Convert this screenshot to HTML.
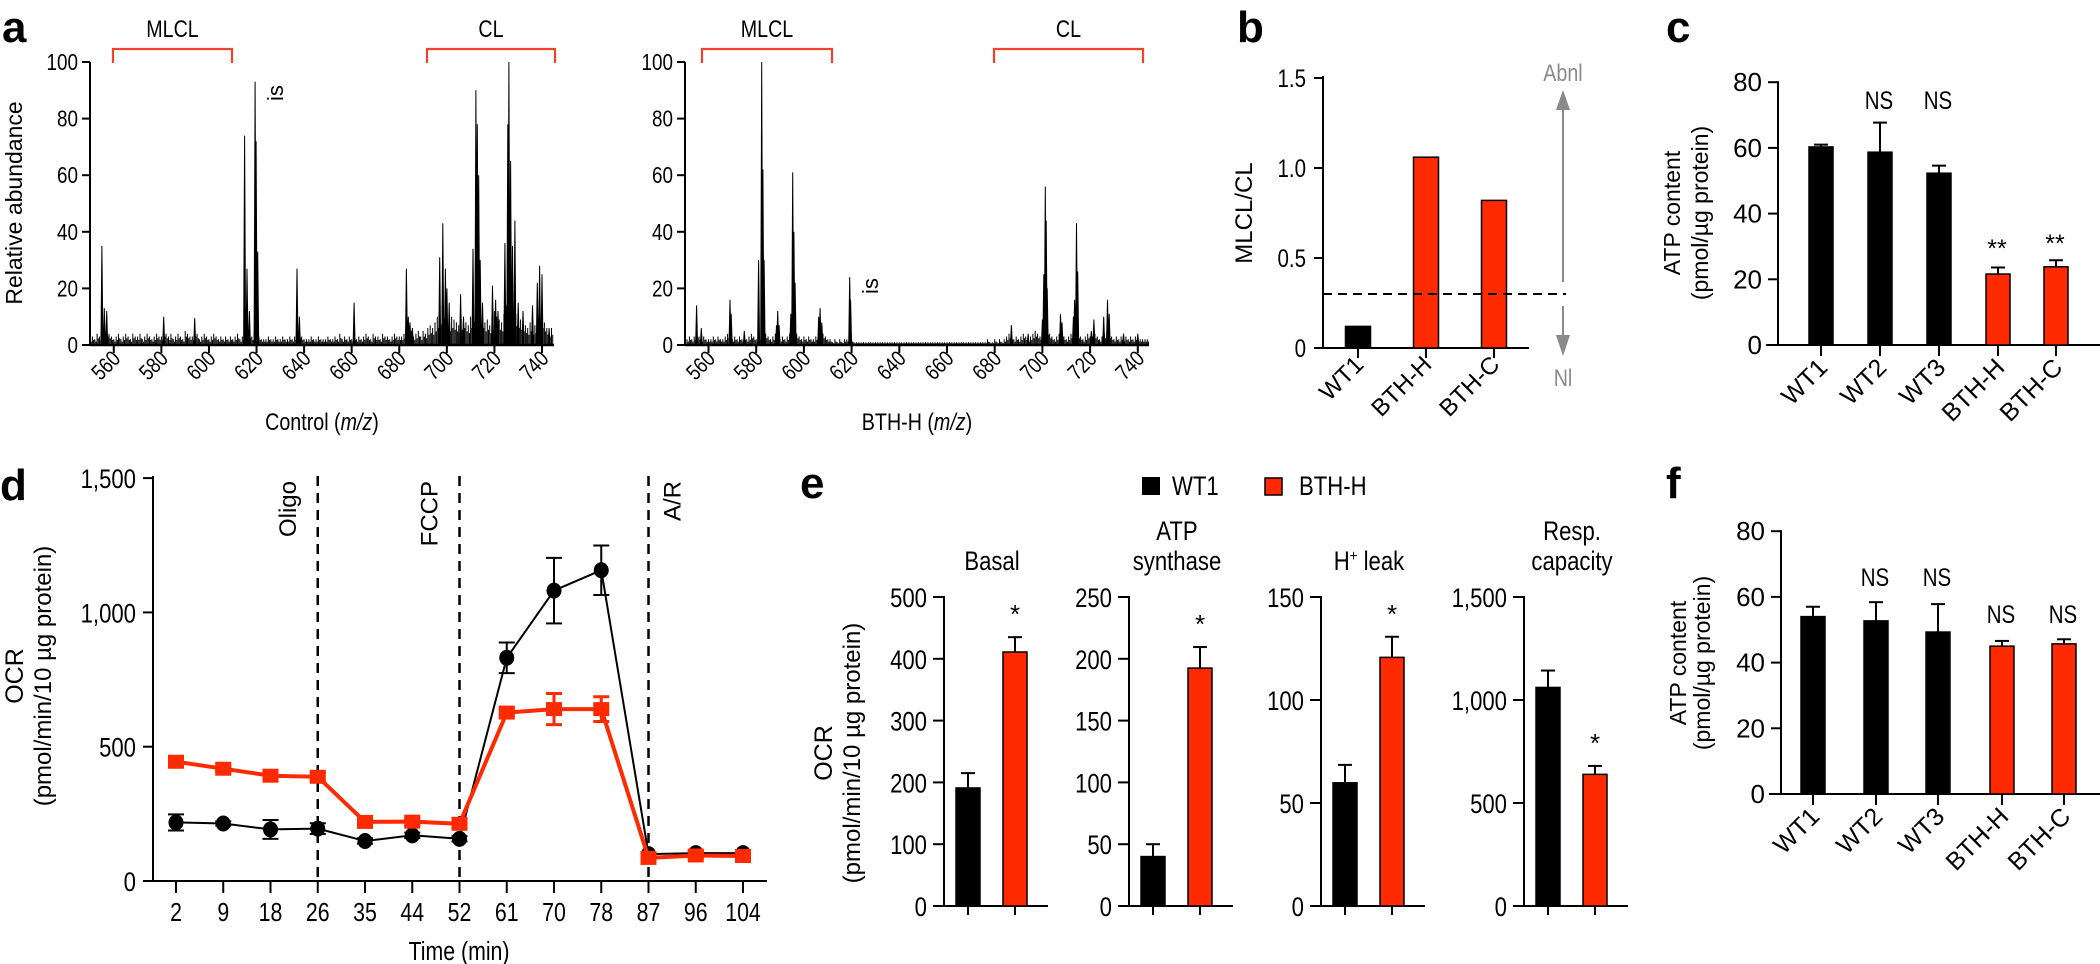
<!DOCTYPE html>
<html><head><meta charset="utf-8"><style>
html,body{margin:0;padding:0;background:#fff;}
svg{display:block;}
</style></head>
<body>
<svg id="fig" xmlns="http://www.w3.org/2000/svg" width="2100" height="964" viewBox="0 0 2100 964"></svg>
<script>
// ---------- DATA ----------
const ctrlPeakMz  = [555,556,557,581,594,615,616,617,619.4,619.8,620.5,637,638,661,683,683.8,684.5,685.5,697,698.3,699.4,700,701,705.8,707,711,712.2,712.8,713.4,714,715,719.2,720.5,721.5,724.4,725.6,726.1,726.8,727.6,728.6,730,732,736,738,739,740,743];
const ctrlPeakVal = [35,13,12,10,9.5,74,27,12,93,72,33,27,10,15,27,10,8,6,31,43,27,20,15,18,10,34,90,78,60,30,15,21,16,12,36,78,100,65,35,44,15,12,14,22,28,25,6];
const ctrlNoise = [2,3,2,4,3,2,3,5,4,3,2,
3,4,2,3,4,3,2,4,3,3,4,2,3,4,3,2,3,4,3,3,
5,4,3,4,2,3,4,3,2,5,4,3,3,5,4,2,3,4,3,2,
3,4,3,2,3,2,3,2,3,2,3,4,2,3,5,6,4,3,5,4,
3,2,2,2,3,2,2,3,2,2,3,2,2,3,2,3,3,4,3,2,
2,2,3,2,2,3,2,2,2,3,2,2,3,2,4,2,3,2,3,2,
3,2,3,2,3,4,3,2,4,3,3,2,4,3,3,2,3,4,3,3,
3,4,6,7,5,3,4,5,3,5,4,6,7,6,8,10,12,14,9,7,
8,10,9,8,7,9,10,8,7,10,14,16,12,9,10,8,9,7,9,12,
10,9,8,11,14,16,12,9,11,10,9,8,7,6,8,6,7,8,12,10,8,6,5,6];
const bthPeakMz  = [555,557,569,569.5,575,581,582.3,582.8,583.3,589,588.5,589.6,594.5,595.3,595.8,596.3,606.8,606.2,607.5,619.2,619.6,687,694,700,700.6,701.2,701.6,702,707.6,708.2,713,713.5,714.3,714.8,720.5,721.6,725.7,727.3,728,734,740];
const bthPeakVal = [14,6,16,11,5,30,100,62,30,12,7,7,11,61,40,22,13,10,8,24,16,7,4,9,25,56,44,20,11,8,10,16,43,26,5,9,10,16,11,4,4];
const bthNoise = [2,3,2,3,4,3,2,3,2,2,
2,3,2,3,2,2,3,4,3,2,3,2,3,2,3,2,3,4,3,2,
3,4,5,4,3,2,3,4,3,2,3,2,3,4,5,6,4,3,2,3,
2,3,2,2,3,2,3,4,3,2,2,1,2,1,2,1,2,2,3,2,
1,1,1,1,1,1,1,1,1,1,1,1,1,1,1,1,1,1,1,1,
1,1,1,1,1,1,1,1,1,1,1,1,1,1,1,1,1,1,1,1,
1,1,1,1,1,1,1,1,1,1,1,1,1,1,1,1,2,1,1,2,
1,2,1,2,3,4,3,2,3,2,3,4,3,2,3,4,5,4,3,4,
5,6,4,3,2,3,4,5,3,2,3,4,5,6,4,3,2,3,4,3,
3,4,3,2,3,4,5,4,3,2,3,2,3,2,3,2,3,2,3,2,2,2,2,2];
const mzTicks = [560,580,600,620,640,660,680,700,720,740];
const abundTicks = [0,20,40,60,80,100];

const bCats = ["WT1","BTH-H","BTH-C"];
const bVals = [0.12,1.06,0.82];
const bTicks = ["0","0.5","1.0","1.5"];

const atpCats = ["WT1","WT2","WT3","BTH-H","BTH-C"];
const cVals = [60.3,58.7,52.3,21.6,23.8];
const cErr  = [0.7,9,2.3,2,2];
const cSig  = ["","NS","NS","**","**"];
const fVals = [54,52.7,49.3,45,45.7];
const fErr  = [3,5.7,8.5,1.6,1.4];
const fSig  = ["","NS","NS","NS","NS"];
const atpTicks = [0,20,40,60,80];

const dTimes = ["2","9","18","26","35","44","52","61","70","78","87","96","104"];
const dWT  = [218,214,192,195,149,170,157,831,1081,1157,100,104,104];
const dWTe = [30,8,35,20,10,10,10,57,122,92,8,8,8];
const dBT  = [444,418,392,388,220,221,213,627,640,640,86,95,93];
const dBTe = [10,10,10,15,12,12,12,15,58,46,10,10,10];
const dTicks = [0,500,1000,1500];
const dTickLabels = ["0","500","1,000","1,500"];
const dInjections = [3,6,10];
const dInjNames = ["Oligo","FCCP","A/R"];

const eTitles = [["Basal"],["ATP","synthase"],["H+ leak"],["Resp.","capacity"]];
const eMax = [500,250,150,1500];
const eStep = [100,50,50,500];
const eWT  = [191,40,59.8,1061];
const eWTe = [24,10,8.7,82];
const eBT  = [411,192.5,120.7,639];
const eBTe = [24,17,10,41];

// ---------- HELPERS ----------
const NS = "http://www.w3.org/2000/svg";
const svg = document.getElementById('fig');
const NARROW = "narrow";
const REG = "'Liberation Sans',sans-serif";
const RED = "#ff2a00";
function mk(tag, attrs, name, parent){
  const e = document.createElementNS(NS, tag);
  for (const k in attrs) e.setAttribute(k, attrs[k]);
  
  
  (parent || svg).appendChild(e);
  return e;
}
function line(x1,y1,x2,y2,name,extra){
  const a = {x1:x1,y1:y1,x2:x2,y2:y2,stroke:'#000','stroke-width':2};
  if (extra) for (const k in extra) a[k]=extra[k];
  return mk('line', a, name);
}
function text(x,y,s,size,name,opt){
  const fam = (opt&&opt.fam)||NARROW;
  const a = {x:x,y:y,'font-size':size,'font-family':REG,fill:(opt&&opt.fill)||'#000'};
  if (opt&&opt.anchor) a['text-anchor']=opt.anchor;
  if (opt&&opt.weight) a['font-weight']=opt.weight;
  let tr = (opt&&opt.transform) ? opt.transform : '';
  if (fam===NARROW) tr += ' translate('+x+' '+y+') scale(0.82 1) translate('+(-x)+' '+(-y)+')';
  if (tr) a['transform']=tr.trim();
  const t = mk('text', a, name);
  t.textContent = s;
  return t;
}
function panelLetter(x,y,s){ text(x,y,s,44,'panel-label-'+s,{fam:REG,weight:'bold'}); }

// ---------- PANEL A ----------
function spectrum(id, xs, peaksMz, peaksVal, noise, noiseStart, axX, axEnd, xlab){
  const ys = v => 345 - v*2.83;
  let d = '';
  noise.forEach((v,i)=>{ const x = xs(noiseStart+i); d += 'M'+x.toFixed(1)+' 345V'+ys(v).toFixed(1)+'M'+(x+1.2).toFixed(1)+' 345V'+ys(v*0.6).toFixed(1); });
  mk('path',{d:d,stroke:'#000','stroke-width':1,fill:'none'}, id+'-noise');
  let p = '';
  peaksMz.forEach((m,i)=>{ const x = xs(m); p += 'M'+(x-1).toFixed(1)+' 345L'+x.toFixed(1)+' '+ys(peaksVal[i]).toFixed(1)+'L'+(x+1).toFixed(1)+' 345Z'; });
  mk('path',{d:p,stroke:'#000','stroke-width':1,fill:'#000'}, id+'-peaks');
  line(axX,62,axX,346,id+'-y-axis');
  line(axX,345,axEnd,345,id+'-x-axis',{'stroke-width':2.5});
  abundTicks.forEach(v=>{
    line(axX-8,ys(v),axX,ys(v),id+'-y-tick');
    text(axX-12,ys(v)+8,String(v),23,id+'-y-tick-label',{anchor:'end'});
  });
  mzTicks.forEach(m=>{
    const x = xs(m);
    line(x,345,x,353,id+'-x-tick');
    text(x+8,360,String(m),22,id+'-x-tick-label',{anchor:'end',transform:'rotate(-45 '+(x+8)+' 360)'});
  });
  const t = text((axX+axEnd)/2,430,'',24,id+'-x-axis-title',{anchor:'middle'});
  t.textContent = xlab+' (';
  const ts = document.createElementNS(NS,'tspan'); ts.setAttribute('font-style','italic'); ts.textContent='m/z'; t.appendChild(ts);
  t.appendChild(document.createTextNode(')'));
}
const xCtrl = m => 90 + (m-550)*2.379;
const xBth  = m => 708.5 + (m-560)*2.385;
spectrum('control-spectrum', xCtrl, ctrlPeakMz, ctrlPeakVal, ctrlNoise, 550, 90, 554, 'Control');
spectrum('bthh-spectrum', xBth, bthPeakMz, bthPeakVal, bthNoise, 551, 685, 1149, 'BTH-H');
function bracket(x1,x2,label,name){
  mk('path',{d:'M'+x1+' 63V49H'+x2+'V63',stroke:'#f0442a','stroke-width':2.2,fill:'none'},name);
  text((x1+x2)/2,37,label,24,name+'-label',{anchor:'middle'});
}
bracket(113,232,'MLCL','control-mlcl-bracket');
bracket(427,555,'CL','control-cl-bracket');
bracket(702,832,'MLCL','bthh-mlcl-bracket');
bracket(994,1143,'CL','bthh-cl-bracket');
text(283,101,'is',22,'control-is-label',{fam:REG,transform:'rotate(-90 283 101)'});
text(878,294,'is',22,'bthh-is-label',{fam:REG,transform:'rotate(-90 878 294)'});
text(22,203,'Relative abundance',23,'a-y-axis-title',{fam:REG,anchor:'middle',transform:'rotate(-90 22 203)'});
panelLetter(2,42,'a');

// ---------- PANEL B ----------
(function(){
  const yb = v => 348 - v*180;
  const cx = [1358,1426,1494];
  line(1323,76,1323,349,'b-y-axis');
  line(1322,348,1529,348,'b-x-axis');
  bTicks.forEach(s=>{ const v=parseFloat(s); line(1314,yb(v),1323,yb(v),'b-y-tick'); text(1306,yb(v)+9,s,25,'b-y-tick-label',{anchor:'end'}); });
  bVals.forEach((v,i)=>{
    mk('rect',{x:cx[i]-12.5,y:yb(v),width:25,height:348-yb(v),fill:i===0?'#000':RED,stroke:'#000','stroke-width':1.5},'b-bar-'+bCats[i].toLowerCase());
    line(cx[i],348,cx[i],358,'b-x-tick');
    text(cx[i]+7,366,bCats[i],24,'b-x-tick-label',{fam:REG,anchor:'end',transform:'rotate(-45 '+(cx[i]+7)+' 366)'});
  });
  line(1323,yb(0.3),1566,yb(0.3),'b-threshold-line',{'stroke-dasharray':'9,6'});
  line(1563,100,1563,282,'abnormal-arrow',{stroke:'#8a8a8a','stroke-width':2});
  mk('polygon',{points:'1556,110 1563,90 1570,110',fill:'#8a8a8a'},'abnormal-arrowhead');
  line(1563,306,1563,340,'normal-arrow',{stroke:'#8a8a8a','stroke-width':2});
  mk('polygon',{points:'1556,335 1563,356 1570,335',fill:'#8a8a8a'},'normal-arrowhead');
  text(1563,81,'Abnl',24,'abnormal-label',{anchor:'middle',fill:'#8a8a8a'});
  text(1563,386,'Nl',24,'normal-label',{anchor:'middle',fill:'#8a8a8a'});
  text(1252,213,'MLCL/CL',24,'b-y-axis-title',{fam:REG,anchor:'middle',transform:'rotate(-90 1252 213)'});
  panelLetter(1237,42,'b');
})();

// ---------- PANELS C & F ----------
function atpPanel(id, axX, y0, cx, vals, errs, sig, sigY, labX1, labX2, labY){
  const ys = v => y0 - v*3.285;
  line(axX,ys(80)-1,axX,y0+1,id+'-y-axis');
  line(axX-12,y0,2100,y0,id+'-x-axis');
  atpTicks.forEach(v=>{ line(axX-10,ys(v),axX,ys(v),id+'-y-tick'); text(axX-16,ys(v)+9,String(v),26,id+'-y-tick-label',{fam:REG,anchor:'end'}); });
  vals.forEach((v,i)=>{
    const top = ys(v), et = ys(v+errs[i]);
    line(cx[i],top,cx[i],et,id+'-error-bar');
    line(cx[i]-7,et,cx[i]+7,et,id+'-error-cap');
    mk('rect',{x:cx[i]-12,y:top,width:24,height:y0-top,fill:i<3?'#000':RED,stroke:'#000','stroke-width':1.5},id+'-bar-'+atpCats[i].toLowerCase());
    line(cx[i],y0,cx[i],y0+11,id+'-x-tick');
    text(cx[i]+8,y0+24,atpCats[i],25,id+'-x-tick-label',{fam:REG,anchor:'end',transform:'rotate(-45 '+(cx[i]+8)+' '+(y0+24)+')'});
    if (sig[i]) text(cx[i]-1,sigY[i],sig[i],25,id+'-significance',{anchor:'middle',fam:sig[i]==='NS'?NARROW:REG});
  });
  text(labX1,labY,'ATP content',23,id+'-y-axis-title-1',{fam:REG,anchor:'middle',transform:'rotate(-90 '+labX1+' '+labY+')'});
  text(labX2,labY,'(pmol/µg protein)',23,id+'-y-axis-title-2',{fam:REG,anchor:'middle',transform:'rotate(-90 '+labX2+' '+labY+')'});
}
atpPanel('c',1778,345,[1821,1880,1939,1998,2056],cVals,cErr,cSig,[0,109,109,257,252],1680,1708,213);
atpPanel('f',1781,794,[1813,1876,1938,2002,2064],fVals,fErr,fSig,[0,586,586,623,623],1686,1710,663);
panelLetter(1666,42,'c');
panelLetter(1666,498,'f');

// ---------- PANEL D ----------
(function(){
  const xd = i => 176 + i*47.25;
  const yd = v => 881 - v*0.2686;
  line(153,476,153,882,'d-y-axis');
  line(144,881,767,881,'d-x-axis');
  dTicks.forEach((v,i)=>{ line(143,yd(v),153,yd(v),'d-y-tick'); text(136,yd(v)+10,dTickLabels[i],27,'d-y-tick-label',{anchor:'end'}); });
  dTimes.forEach((s,i)=>{ line(xd(i),881,xd(i),893,'d-x-tick'); text(xd(i),921,s,26,'d-x-tick-label',{anchor:'middle'}); });
  dInjections.forEach((k,i)=>{
    line(xd(k),476,xd(k),881,'d-injection-line-'+dInjNames[i].toLowerCase().replace('/',''),{'stroke-width':2.5,'stroke-dasharray':'10,7'});
    const lx = xd(k) + (i<2 ? -22 : 32);
    text(lx,481,dInjNames[i],24,'d-injection-label',{fam:REG,anchor:'end',transform:'rotate(-90 '+lx+' 481)'});
  });
  function series(vals, errs, color, width, name, square){
    let d=''; vals.forEach((v,i)=>{ d += (i?'L':'M')+xd(i).toFixed(1)+' '+yd(v).toFixed(1); });
    mk('path',{d:d,stroke:color,'stroke-width':width,fill:'none'},name+'-line');
    vals.forEach((v,i)=>{
      const x=xd(i), t=yd(v+errs[i]), b=yd(v-errs[i]);
      line(x,t,x,b,name+'-error-bar',{stroke:color,'stroke-width':square?3:2});
      line(x-8,t,x+8,t,name+'-error-cap',{stroke:color,'stroke-width':square?3:2});
      line(x-8,b,x+8,b,name+'-error-cap',{stroke:color,'stroke-width':square?3:2});
      if (square) mk('rect',{x:x-8,y:yd(v)-7,width:16,height:14,fill:color},name+'-marker');
      else mk('ellipse',{cx:x,cy:yd(v),rx:7.5,ry:8,fill:color},name+'-marker');
    });
  }
  series(dWT,dWTe,'#000',2,'d-wt1',false);
  series(dBT,dBTe,RED,4,'d-bthh',true);
  text(23,676,'OCR',25,'d-y-axis-title-1',{fam:REG,anchor:'middle',transform:'rotate(-90 23 676)'});
  text(51,676,'(pmol/min/10 µg protein)',24,'d-y-axis-title-2',{fam:REG,anchor:'middle',transform:'rotate(-90 51 676)'});
  text(459,960,'Time (min)',26,'d-x-axis-title',{anchor:'middle'});
  panelLetter(0,500,'d');
})();

// ---------- PANEL E ----------
(function(){
  const axes = [944,1129,1321,1524];
  const y0 = 906, h = 309;
  axes.forEach((ax,k)=>{
    const ys = v => y0 - v/eMax[k]*h;
    const id = 'e-'+['basal','atp-synthase','h-leak','resp-capacity'][k];
    line(ax,ys(eMax[k])-1,ax,y0+1,id+'-y-axis');
    line(ax-11,y0,ax+104,y0,id+'-x-axis');
    for (let v=0; v<=eMax[k]; v+=eStep[k]){
      line(ax-11,ys(v),ax,ys(v),id+'-y-tick');
      const lab = v>=1000 ? String(v).replace(/(\d)(\d{3})$/,'$1,$2') : String(v);
      text(ax-17,ys(v)+10,lab,27,id+'-y-tick-label',{anchor:'end'});
    }
    const cb = ax+24, cr = ax+71;
    [[cb,eWT[k],eWTe[k],'#000','wt1'],[cr,eBT[k],eBTe[k],RED,'bthh']].forEach(b=>{
      const top=ys(b[1]), et=ys(b[1]+b[2]);
      line(b[0],top,b[0],et,id+'-error-bar');
      line(b[0]-7,et,b[0]+7,et,id+'-error-cap');
      mk('rect',{x:b[0]-12,y:top,width:24,height:y0-top,fill:b[3],stroke:'#000','stroke-width':1.5},id+'-bar-'+b[4]);
      line(b[0],y0,b[0],y0+9,id+'-x-tick');
    });
    text(cr,ys(eBT[k]+eBTe[k])-14,'*',26,id+'-significance',{fam:REG,anchor:'middle'});
    const tc = ax+48;
    const tl = eTitles[k];
    if (tl.length===2){
      text(tc,540,tl[0],27,id+'-title-1',{anchor:'middle'});
      text(tc,570,tl[1],27,id+'-title-2',{anchor:'middle'});
    } else if (k===2){
      const t = text(tc,570,'H',27,id+'-title',{anchor:'middle'});
      const s = document.createElementNS(NS,'tspan'); s.setAttribute('baseline-shift','super'); s.setAttribute('font-size','16'); s.textContent='+'; t.appendChild(s);
      t.appendChild(document.createTextNode(' leak'));
    } else text(tc,570,tl[0],27,id+'-title',{anchor:'middle'});
  });
  mk('rect',{x:1142,y:477,width:18,height:18,fill:'#000'},'legend-wt1-swatch');
  text(1172,495,'WT1',27,'legend-wt1-label');
  mk('rect',{x:1265,y:478,width:17,height:17,fill:RED,stroke:'#000','stroke-width':1.5},'legend-bthh-swatch');
  text(1299,495,'BTH-H',27,'legend-bthh-label');
  text(832,753,'OCR',25,'e-y-axis-title-1',{fam:REG,anchor:'middle',transform:'rotate(-90 832 753)'});
  text(860,753,'(pmol/min/10 µg protein)',24,'e-y-axis-title-2',{fam:REG,anchor:'middle',transform:'rotate(-90 860 753)'});
  panelLetter(800,498,'e');
})();
</script>
</body></html>
